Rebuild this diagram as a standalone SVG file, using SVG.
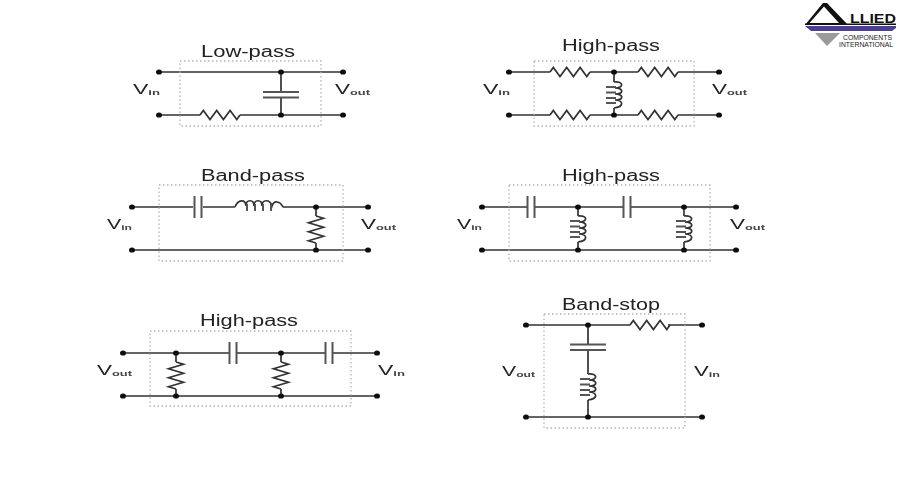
<svg xmlns="http://www.w3.org/2000/svg" width="900" height="500" viewBox="0 0 900 500">
<style>
text{font-family:"Liberation Sans",Arial,sans-serif;fill:#222}
.t{font-size:16px}
.v{font-size:14px}
.s{font-size:8px;font-weight:bold;fill:#444}
.w,.c{fill:none;stroke:#333;stroke-width:1.7}
.p{fill:none;stroke:#555;stroke-width:2}
.b{fill:none;stroke:#b5b5b5;stroke-width:1.3;stroke-dasharray:1.5 2.5}
.d{fill:#111}
.lg{font-family:"Liberation Sans",sans-serif;font-size:6.500px;fill:#222}
</style>
<defs>
<filter id="soft" x="-5%" y="-5%" width="110%" height="110%"><feGaussianBlur stdDeviation="0.65"/></filter>
<ellipse id="d" class="d" rx="3" ry="2.600"/>
<path id="rh" class="c" d="M0 0l3.300-4.500 6.700 9 6.700-9 6.700 9 6.700-9 6.700 9 3.200-4.500"/>
<path id="rv" class="c" d="M0 0l7.500 2.300-15 4.500 15 4.500-15 4.500 15 4.500-15 4.500 7.500 2.200"/>
<g id="ch"><path class="p" d="M-3.500-11V11M3.500-11V11"/></g>
<g id="cv"><path class="p" d="M-18-3H18M-18 2.500H18"/></g>
<g id="lv"><path class="c" d="M0 0C10-1 10 6 1 6C10 6 10 12 1 12C10 12 10 18 1 18C10 18 10 25 0 26"/><path class="p" d="M-8 5H2M-8 10.500H2M-8 16H2M-8 21H2"/></g>
<g id="lh"><path class="c" d="M0 0C3-8 11-8 11-1C11-8 19-8 19-1C19-8 27-8 27-1C27-8 35-8 37-1C39-7 45-6 48 0"/><path class="p" d="M12-3V4M20-3V4M28-3V4M36-3V4"/></g>
</defs>
<g filter="url(#soft)">
<g id="connectors">
<path class="w" d="M159 72H343M159 115H200M240 115H343M281 72V92M281 98V115"/>
<path class="w" d="M509 72H550M590 72H638M678 72H719M509 115H550M590 115H638M678 115H719M614 72V82M614 108V115"/>
<path class="w" d="M132 207H193M203 207H235M283 207H368M132 250H368M316 207V216M316 243V250"/>
<path class="w" d="M482 207H527M535 207H623M631 207H736M482 250H736M578 207V216M578 242V250M684 207V216M684 242V250"/>
<path class="w" d="M123 353H229M237 353H325M333 353H377M123 396H377M176 353V362M176 389V396M281 353V362M281 389V396"/>
<path class="w" d="M526 325H630M668 325H702M526 417H702M588 325V345M588 350V374M588 400V417"/>
</g>
<g id="low-pass">
<rect class="b" x="180" y="61" width="141" height="65"/>
<text class="t" x="201" y="57" textLength="94" lengthAdjust="spacingAndGlyphs">Low-pass</text>
<text class="v" x="133" y="94" textLength="27" lengthAdjust="spacingAndGlyphs">V<tspan class="s" dy="1">in</tspan></text>
<text class="v" x="335" y="94" textLength="35" lengthAdjust="spacingAndGlyphs">V<tspan class="s" dy="1">out</tspan></text>
<use href="#rh" x="200" y="115"/><use href="#cv" x="281" y="95"/>
<use href="#d" x="159" y="72"/><use href="#d" x="343" y="72"/><use href="#d" x="159" y="115"/><use href="#d" x="343" y="115"/><use href="#d" x="281" y="72"/><use href="#d" x="281" y="115"/>
</g>
<g id="high-pass-t">
<rect class="b" x="534" y="61" width="160" height="65"/>
<text class="t" x="562" y="51" textLength="98" lengthAdjust="spacingAndGlyphs">High-pass</text>
<text class="v" x="483" y="94" textLength="27" lengthAdjust="spacingAndGlyphs">V<tspan class="s" dy="1">in</tspan></text>
<text class="v" x="712" y="94" textLength="35" lengthAdjust="spacingAndGlyphs">V<tspan class="s" dy="1">out</tspan></text>
<use href="#rh" x="550" y="72"/><use href="#rh" x="638" y="72"/><use href="#rh" x="550" y="115"/><use href="#rh" x="638" y="115"/><use href="#lv" x="614" y="82"/>
<use href="#d" x="509" y="72"/><use href="#d" x="719" y="72"/><use href="#d" x="509" y="115"/><use href="#d" x="719" y="115"/><use href="#d" x="614" y="72"/><use href="#d" x="614" y="115"/>
</g>
<g id="band-pass">
<rect class="b" x="159" y="185" width="184" height="76"/>
<text class="t" x="201" y="181" textLength="104" lengthAdjust="spacingAndGlyphs">Band-pass</text>
<text class="v" x="107" y="229" textLength="25" lengthAdjust="spacingAndGlyphs">V<tspan class="s" dy="1">in</tspan></text>
<text class="v" x="361" y="229" textLength="35" lengthAdjust="spacingAndGlyphs">V<tspan class="s" dy="1">out</tspan></text>
<use href="#ch" x="198" y="207"/><use href="#lh" x="235" y="207"/><use href="#rv" x="316" y="216"/>
<use href="#d" x="132" y="207"/><use href="#d" x="368" y="207"/><use href="#d" x="132" y="250"/><use href="#d" x="368" y="250"/><use href="#d" x="316" y="207"/><use href="#d" x="316" y="250"/>
</g>
<g id="high-pass-ladder-l">
<rect class="b" x="509" y="185" width="201" height="76"/>
<text class="t" x="562" y="181" textLength="98" lengthAdjust="spacingAndGlyphs">High-pass</text>
<text class="v" x="457" y="229" textLength="25" lengthAdjust="spacingAndGlyphs">V<tspan class="s" dy="1">in</tspan></text>
<text class="v" x="730" y="229" textLength="35" lengthAdjust="spacingAndGlyphs">V<tspan class="s" dy="1">out</tspan></text>
<use href="#ch" x="531" y="207"/><use href="#ch" x="627" y="207"/><use href="#lv" x="578" y="216"/><use href="#lv" x="684" y="216"/>
<use href="#d" x="482" y="207"/><use href="#d" x="736" y="207"/><use href="#d" x="482" y="250"/><use href="#d" x="736" y="250"/><use href="#d" x="578" y="207"/><use href="#d" x="578" y="250"/><use href="#d" x="684" y="207"/><use href="#d" x="684" y="250"/>
</g>
<g id="high-pass-ladder-r">
<rect class="b" x="150" y="331" width="201" height="75"/>
<text class="t" x="200" y="326" textLength="98" lengthAdjust="spacingAndGlyphs">High-pass</text>
<text class="v" x="97" y="375" textLength="35" lengthAdjust="spacingAndGlyphs">V<tspan class="s" dy="1">out</tspan></text>
<text class="v" x="378" y="375" textLength="27" lengthAdjust="spacingAndGlyphs">V<tspan class="s" dy="1">in</tspan></text>
<use href="#ch" x="233" y="353"/><use href="#ch" x="329" y="353"/><use href="#rv" x="176" y="362"/><use href="#rv" x="281" y="362"/>
<use href="#d" x="123" y="353"/><use href="#d" x="377" y="353"/><use href="#d" x="123" y="396"/><use href="#d" x="377" y="396"/><use href="#d" x="176" y="353"/><use href="#d" x="176" y="396"/><use href="#d" x="281" y="353"/><use href="#d" x="281" y="396"/>
</g>
<g id="band-stop">
<rect class="b" x="544" y="314" width="141" height="114"/>
<text class="t" x="562" y="310" textLength="98" lengthAdjust="spacingAndGlyphs">Band-stop</text>
<text class="v" x="502" y="376" textLength="33" lengthAdjust="spacingAndGlyphs">V<tspan class="s" dy="1">out</tspan></text>
<text class="v" x="694" y="376" textLength="26" lengthAdjust="spacingAndGlyphs">V<tspan class="s" dy="1">in</tspan></text>
<use href="#rh" x="630" y="325"/><use href="#cv" x="588" y="347.500"/><use href="#lv" x="588" y="374"/>
<use href="#d" x="526" y="325"/><use href="#d" x="702" y="325"/><use href="#d" x="526" y="417"/><use href="#d" x="702" y="417"/><use href="#d" x="588" y="325"/><use href="#d" x="588" y="417"/>
</g>
</g>
<g id="logo">
<path fill-rule="evenodd" fill="#111" d="M823 3H827L848 25H805ZM824 6.500L809.500 23H839Z"/>
<path d="M805 23.500H896V25H805Z" fill="#111"/>
<path d="M805 26H896V28L892 31H811Z" fill="#4b3f95"/>
<path d="M815 33H840L827 46Z" fill="#9a9a9a"/>
<text x="850" y="22.500" textLength="46" lengthAdjust="spacingAndGlyphs" style="font-family:'Liberation Sans',sans-serif;font-size:13px;font-weight:bold;fill:#111">LLIED</text>
<text class="lg" x="843" y="40" textLength="49" lengthAdjust="spacingAndGlyphs">COMPONENTS</text>
<text class="lg" x="839" y="47" textLength="54" lengthAdjust="spacingAndGlyphs">INTERNATIONAL</text>
</g>
</svg>
